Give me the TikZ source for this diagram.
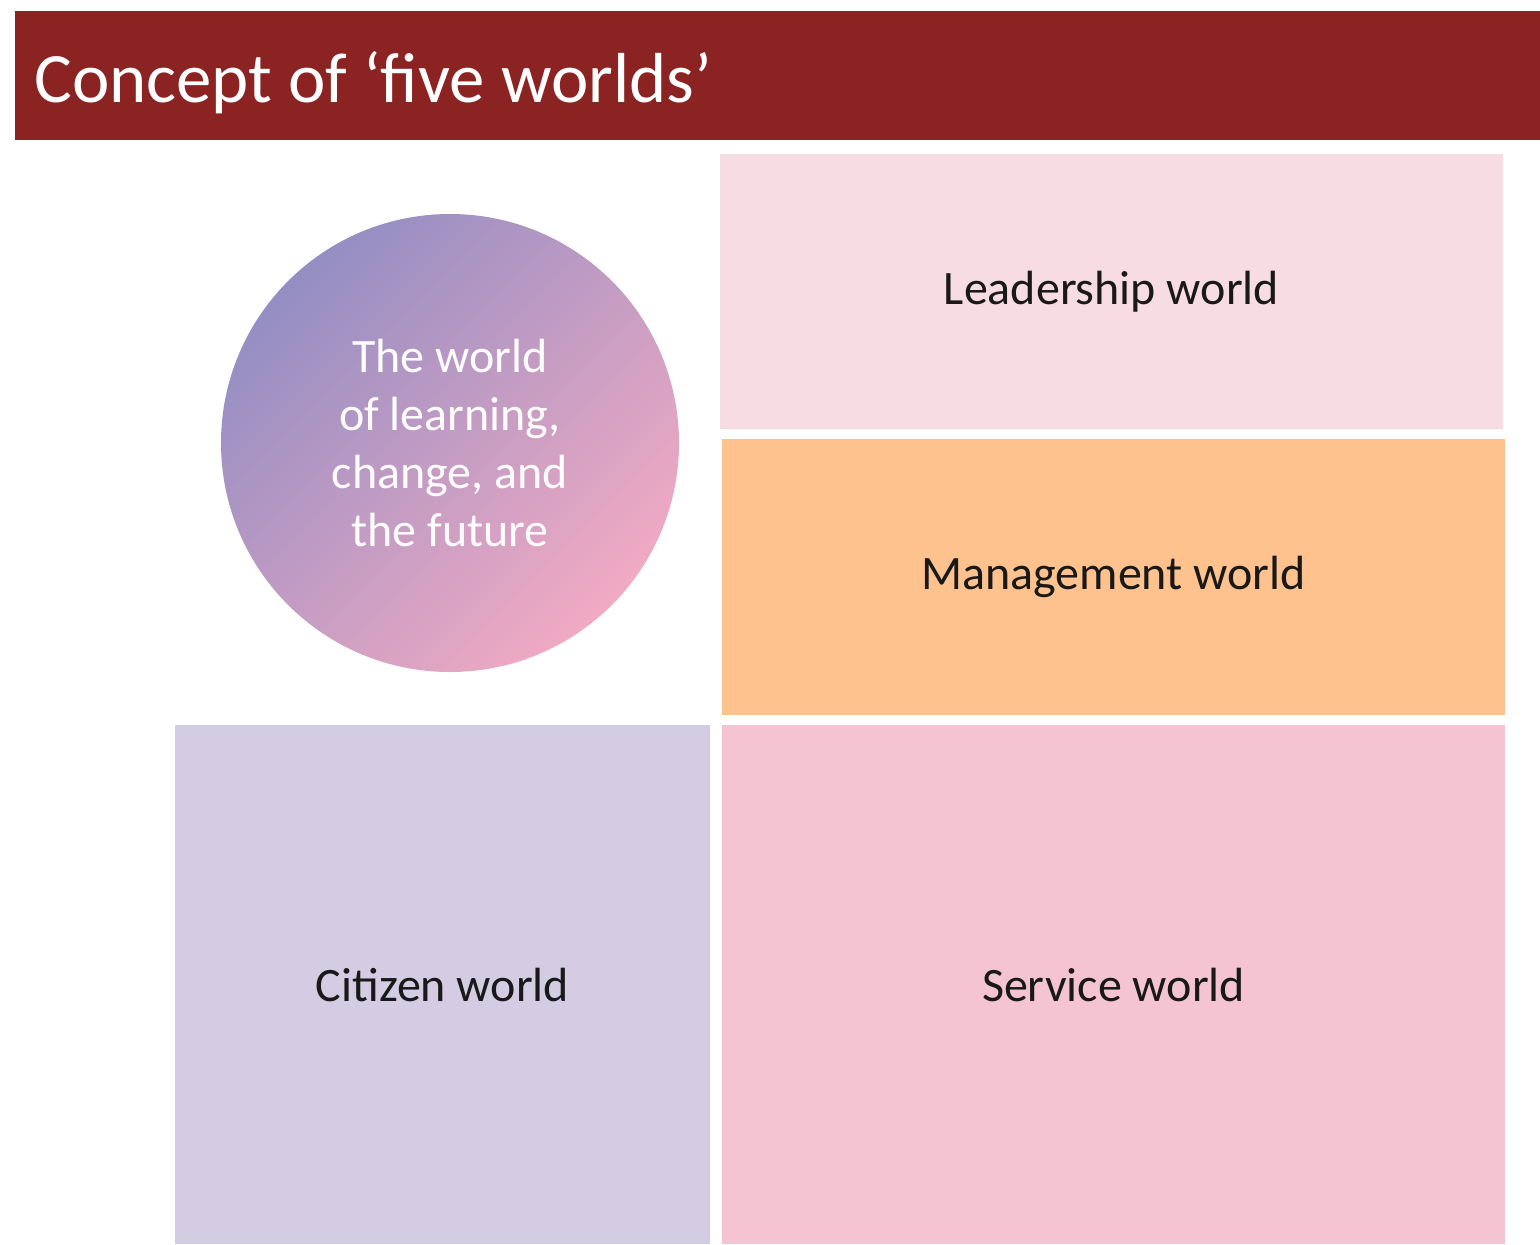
\documentclass[tikz,border=0pt]{standalone}
\usepackage{fontspec}
\setmainfont{Carlito}
\usepackage{xcolor}
\usepackage{tikz}
\usetikzlibrary{positioning,shadings}

\definecolor{headred}{HTML}{8C2323}
\definecolor{leadpink}{HTML}{F8DCE3}
\definecolor{mgmtorange}{HTML}{FEC28F}
\definecolor{citlilac}{HTML}{D3CCE3}
\definecolor{servpink}{HTML}{F5C4D3}
\definecolor{circpurple}{HTML}{948EC3}
\definecolor{circpink}{HTML}{F1AAC3}

\begin{document}
\begin{tikzpicture}[x=0.5pt,y=-0.5pt,
  world node/.style={rectangle,inner sep=0pt,outer sep=0pt,
  font=\fontsize{24}{29}\selectfont,text=black!90},
  wide world/.style={world node,minimum width=391.5pt},
  learn node/.style={circle,inner sep=0pt,minimum size=229pt,
  top color=circpurple,bottom color=circpink,shading angle=45,
  text=white!96!circpink,align=center,font=\fontsize{24}{29}\selectfont}]

  \useasboundingbox (0,0) rectangle (1540,1244);

  \node[rectangle,fill=headred,anchor=north west,inner sep=0pt,
    minimum width=762.5pt,minimum height=64.5pt] (head) at (15,11) {};
  \node[anchor=base west,inner sep=0pt,text=white,
    font=\fontsize{35.4}{42}\selectfont] (title) at (34,102)
    {Concept of ‘five worlds’};

  \node[learn node] (learn) at (450,443)
    {The world\\of learning,\\change, and\\the future};

  \node[wide world,fill=leadpink,minimum height=137.5pt,anchor=north west]
    (lead) at (720,154) {Leadership world};
  \node[wide world,fill=mgmtorange,minimum height=138pt]
    (mgmt) [below=5pt of lead.south east,anchor=north east,xshift=1pt] {Management world};
  \node[wide world,fill=servpink,minimum height=259.5pt]
    (serv) [below=5pt of mgmt] {Service world};
  \node[world node,fill=citlilac,minimum width=267.5pt,minimum height=259.5pt]
    (cit) [left=6pt of serv] {Citizen world};
\end{tikzpicture}
\end{document}
